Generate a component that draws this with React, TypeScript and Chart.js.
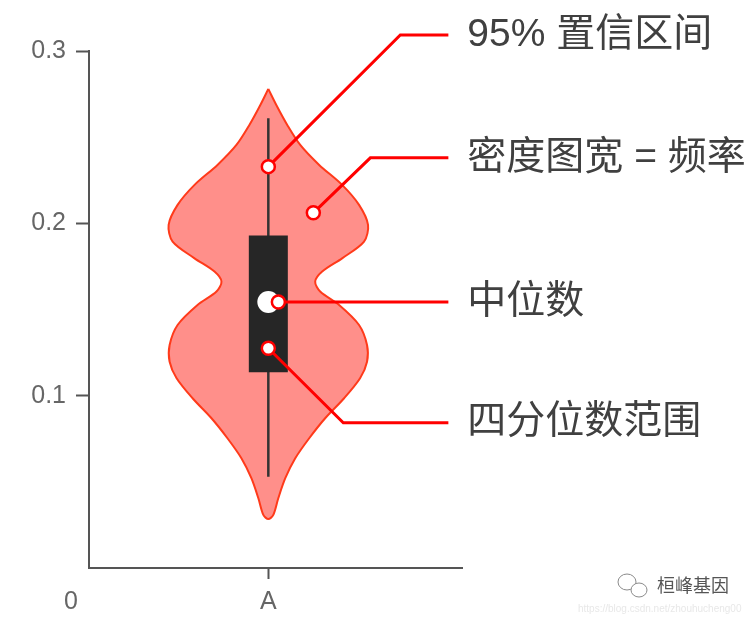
import React, { useEffect, useRef } from 'react';
import { Chart, registerables } from 'chart.js';

Chart.register(...registerables);

// ---- data ----
const categories = ['A'];
const categoryPosition = [1];
const yTicks = [0.1, 0.2, 0.3];
const violinValues = [
  0.0284, 0.0308, 0.0405, 0.0521, 0.0637, 0.0753, 0.0869, 0.0985, 0.1101, 0.1197,
  0.1294, 0.141, 0.1526, 0.1604, 0.1662, 0.172, 0.1797, 0.1894, 0.1991, 0.2107,
  0.2223, 0.2339, 0.2455, 0.2571, 0.2687, 0.278,
];
const violinDensity = [
  0, 0.05, 0.1, 0.17, 0.27, 0.41, 0.57, 0.76, 0.92, 0.99,
  0.99, 0.91, 0.71, 0.52, 0.47, 0.54, 0.74, 0.96, 1.0, 0.91,
  0.74, 0.51, 0.32, 0.19, 0.08, 0,
];
const whiskerRange = [0.053, 0.261];
const quartileRange = [0.1136, 0.1929];
const medianValue = [0.1544];
const annotationLabels = ['95% 置信区间', '密度图宽 = 频率', '中位数', '四分位数范围'];
const annotationX = [1.0, 1.251, 1.056, 1.0];
const annotationY = [0.2329, 0.2061, 0.1544, 0.1275];
const elbowX = [1.736, 1.569, null, 1.418];
const elbowY = [0.3093, 0.238, null, 0.0843];
const leaderEndX = 2.004;
const watermarkText = '桓峰基因';
const watermarkUrl = 'https://blog.csdn.net/zhouhucheng00';

const MAX_HALF_WIDTH = 0.556;

function buildViolin(center: number) {
  const pts: { x: number; y: number }[] = [];
  for (let i = violinValues.length - 1; i >= 0; i--) {
    pts.push({ x: center - violinDensity[i] * MAX_HALF_WIDTH, y: violinValues[i] });
  }
  for (let i = 1; i < violinValues.length; i++) {
    pts.push({ x: center + violinDensity[i] * MAX_HALF_WIDTH, y: violinValues[i] });
  }
  return pts;
}

const textPlugin = {
  id: 'annotationText',
  afterDraw(chart: any) {
    const { ctx, scales, chartArea } = chart;
    const x = scales.x;
    const y = scales.y;
    ctx.save();
    ctx.font = '39px "Liberation Sans", "Noto Sans CJK SC", sans-serif';
    ctx.fillStyle = '#404040';
    ctx.textBaseline = 'middle';
    ctx.textAlign = 'left';
    annotationLabels.forEach((t, i) => {
      const ey = elbowY[i] ?? annotationY[i];
      ctx.fillText(t, x.getPixelForValue(leaderEndX) + 19, y.getPixelForValue(ey as number));
    });
    // stray zero label
    ctx.font = '25px "Liberation Sans", sans-serif';
    ctx.fillStyle = '#666666';
    ctx.textAlign = 'center';
    ctx.fillText('0', chartArea.left - 18, chartArea.bottom + 34);

    // watermark
    ctx.strokeStyle = '#8a8a8a';
    ctx.lineWidth = 1;
    ctx.beginPath();
    ctx.ellipse(627, 582, 9, 8, 0, 0, Math.PI * 2);
    ctx.stroke();
    ctx.fillStyle = '#ffffff';
    ctx.beginPath();
    ctx.ellipse(639, 590, 8, 7, 0, 0, Math.PI * 2);
    ctx.fill();
    ctx.stroke();
    ctx.font = '18px "Noto Sans CJK SC", sans-serif';
    ctx.fillStyle = '#555555';
    ctx.textAlign = 'left';
    ctx.fillText(watermarkText, 657, 585);
    ctx.font = '10px "Liberation Sans", sans-serif';
    ctx.fillStyle = '#e8e8e8';
    ctx.fillText(watermarkUrl, 578, 609);
    ctx.restore();
  },
};

export default function App() {
  const ref = useRef<HTMLCanvasElement | null>(null);

  useEffect(() => {
    if (!ref.current) return;
    const c = categoryPosition[0];
    const leaderDatasets = annotationLabels.map((_, i) => {
      const data: { x: number; y: number }[] = [{ x: annotationX[i], y: annotationY[i] }];
      if (elbowX[i] !== null) data.push({ x: elbowX[i] as number, y: elbowY[i] as number });
      const endY = elbowY[i] ?? annotationY[i];
      data.push({ x: leaderEndX, y: endY as number });
      return {
        type: 'scatter' as const,
        data,
        showLine: true,
        borderColor: '#ff0000',
        borderWidth: 3,
        pointRadius: 0,
        tension: 0,
        clip: false as any,
        order: 3,
      };
    });

    const chart = new Chart(ref.current, {
      type: 'scatter',
      data: {
        datasets: [
          {
            data: buildViolin(c),
            showLine: true,
            fill: 'shape' as any,
            backgroundColor: '#ff8f8a',
            borderColor: '#ff3a1a',
            borderWidth: 2,
            pointRadius: 0,
            tension: 0.3,
            order: 10,
          },
          {
            data: [
              { x: c, y: whiskerRange[0] },
              { x: c, y: whiskerRange[1] },
            ],
            showLine: true,
            borderColor: '#333333',
            borderWidth: 2.5,
            pointRadius: 0,
            order: 8,
          },
          {
            data: [
              { x: c, y: quartileRange[0] },
              { x: c, y: quartileRange[1] },
            ],
            showLine: true,
            borderColor: '#262626',
            borderWidth: 39,
            borderCapStyle: 'butt',
            pointRadius: 0,
            order: 6,
          },
          {
            data: [{ x: c, y: medianValue[0] }],
            pointRadius: 11,
            pointBackgroundColor: '#ffffff',
            pointBorderWidth: 0,
            borderColor: 'rgba(0,0,0,0)',
            order: 5,
          },
          ...leaderDatasets,
          {
            data: annotationX.map((ax, i) => ({ x: ax, y: annotationY[i] })),
            pointRadius: 6.5,
            pointBackgroundColor: '#ffffff',
            pointBorderColor: '#ff0000',
            pointBorderWidth: 2.5,
            clip: false as any,
            order: 1,
          },
        ] as any,
      },
      options: {
        animation: false,
        responsive: false,
        layout: { padding: { top: 51, right: 287, left: 0, bottom: 0 } },
        plugins: { legend: { display: false }, tooltip: { enabled: false } },
        events: [],
        scales: {
          x: {
            type: 'linear',
            min: 0,
            max: 2.08,
            offset: false,
            afterBuildTicks: (scale: any) => {
              scale.ticks = categoryPosition.map((v) => ({ value: v }));
            },
            afterFit: (scale: any) => {
              scale.height = 50;
            },
            ticks: {
              callback: (v: any) => {
                const idx = categoryPosition.indexOf(Number(v));
                return idx >= 0 ? categories[idx] : '';
              },
              font: { family: '"Liberation Sans", sans-serif', size: 25 },
              color: '#666666',
              padding: 8,
              maxRotation: 0,
            },
            grid: {
              drawOnChartArea: false,
              tickLength: 11,
              tickWidth: 2,
              tickColor: '#555555',
            },
            border: { display: true, color: '#555555', width: 2 },
          },
          y: {
            type: 'linear',
            min: 0,
            max: 0.3,
            afterBuildTicks: (scale: any) => {
              scale.ticks = yTicks.map((v) => ({ value: v }));
            },
            afterFit: (scale: any) => {
              scale.width = 89;
            },
            ticks: {
              callback: (v: any) => Number(v).toFixed(1),
              font: { family: '"Liberation Sans", sans-serif', size: 25 },
              color: '#666666',
              padding: 10,
            },
            grid: {
              drawOnChartArea: false,
              tickLength: 13,
              tickWidth: 2,
              tickColor: '#555555',
            },
            border: { display: true, color: '#555555', width: 2 },
          },
        },
      },
      plugins: [textPlugin],
    });
    return () => chart.destroy();
  }, []);

  return (
    <div style={{ position: 'absolute', left: 0, top: 0, width: 749, height: 618, background: '#ffffff' }}>
      <canvas ref={ref} width={749} height={618} />
    </div>
  );
}
